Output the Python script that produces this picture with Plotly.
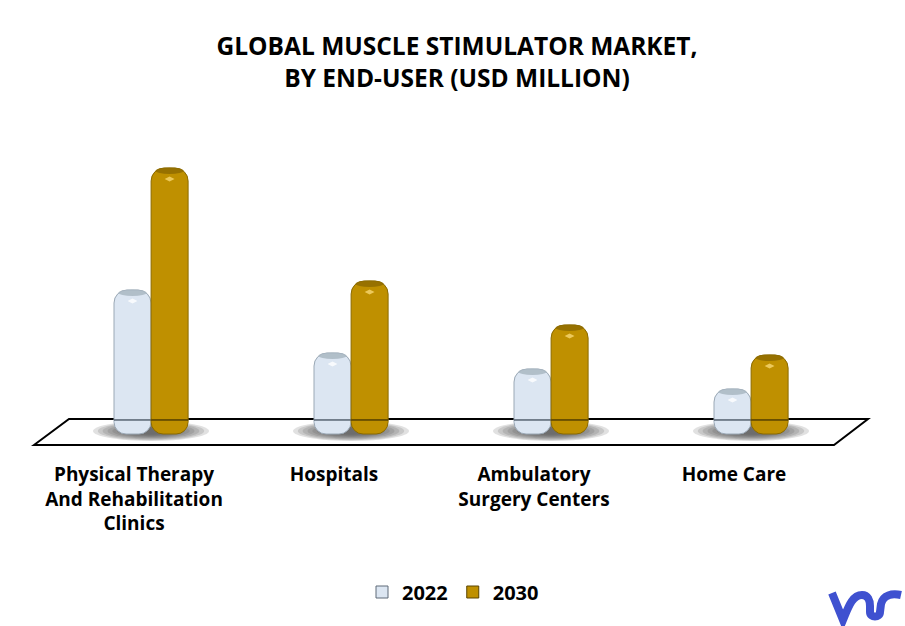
import plotly.graph_objects as go

W = 905
H = 626

categories = ["Physical Therapy<br>And Rehabilitation<br>Clinics", "Hospitals", "Ambulatory<br>Surgery Centers", "Home Care"]
values_2022 = [130, 67, 51, 31]
values_2030 = [252, 139, 95, 65]

font_name = "Open Sans"
color_2022 = "#dce6f2"
edge_2022 = "#9aa8b5"
cap_2022 = "#a9b7c2"
swatch_2022 = "#5f6b78"
color_2030 = "#bf9000"
edge_2030 = "#8a6a00"
cap_2030 = "#8f6c00"
swatch_2030 = "#5a4500"
logo_color = "#3f51d0"

bar_w = 0.185
foot = 14  # height of the rounded foot below zero

# plot area in pixels, paper coordinates are relative to this box
left = 32
right = 870
top = 134
bottom = 446


def px_x(p):
    return (p - left) / (right - left)


def px_y(p):
    return (bottom - p) / (bottom - top)


fig = go.Figure()
shapes = []

xs = list(range(len(categories)))

# floor of the fake 3d chart
shapes.append(dict(type="path", xref="paper", yref="paper", layer="below",
                   path="M %f,%f L %f,%f L %f,%f L %f,%f Z" % (px_x(34), px_y(445), px_x(69), px_y(419), px_x(868), px_y(419), px_x(834), px_y(445)),
                   fillcolor="white", line=dict(color="black", width=2)))

# soft shadow under each pair, a stack of faint ellipses
for x in xs:
    for k in range(9):
        rx = 0.29 - k * 0.024
        ry = 10 - k * 0.8
        shapes.append(dict(type="circle", xref="x", yref="y", layer="below",
                           x0=x + 0.085 - rx, x1=x + 0.085 + rx, y0=-11 - ry, y1=-11 + ry,
                           fillcolor="#505050", opacity=0.17, line=dict(width=0)))

series = [
    ("2022", values_2022, -0.0075, color_2022, edge_2022, cap_2022, swatch_2022),
    ("2030", values_2030, 0.178, color_2030, edge_2030, cap_2030, swatch_2030),
]

for name, vals, off, col, edge, cap, swatch in series:
    bar_x = [x + off for x in xs]
    fig.add_trace(go.Bar(x=bar_x, y=vals, width=bar_w, showlegend=False,
                         marker=dict(color=col, line=dict(color=edge, width=1), cornerradius=13)))
    # rounded foot of the bar
    fig.add_trace(go.Bar(x=bar_x, y=[-foot for v in vals], width=bar_w, showlegend=False,
                         marker=dict(color=col, line=dict(color=edge, width=1), cornerradius=12)))
    # hides the seam between bar and foot
    fig.add_trace(go.Bar(x=bar_x, y=[3 for v in vals], base=-3, width=bar_w - 0.008, showlegend=False,
                         marker=dict(color=col, line=dict(width=0))))
    # legend swatch only, square corners
    fig.add_trace(go.Bar(x=bar_x, y=[0 for v in vals], width=bar_w, name=name,
                         marker=dict(color=col, line=dict(color=swatch, width=1))))
    for bx, v in zip(bar_x, vals):
        shapes.append(dict(type="circle", xref="x", yref="y", layer="above",
                           x0=bx - 0.07, x1=bx + 0.07, y0=v - 6, y1=v + 0.5,
                           fillcolor=cap, opacity=0.85, line=dict(width=0)))
    # small glint near the top
    fig.add_trace(go.Scatter(x=bar_x, y=[v - 11 for v in vals], mode="markers", showlegend=False,
                             marker=dict(symbol="diamond-wide", size=7, color="rgba(255,255,255,0.8)" if name == "2022" else "rgba(255,225,130,0.7)", line=dict(width=0))))

# logo in the corner
logo = "M 832,593 L 843,620 C 848,608 852,595 862,595 C 868,595 870,600 870,606 L 870,612 C 870,618 880,618 880,612 L 881,604 C 883,595 892,593 901,595"
parts = []
for tok in logo.split():
    if "," in tok:
        a, b = tok.split(",")
        parts.append("%f,%f" % (px_x(float(a)), px_y(float(b))))
    else:
        parts.append(tok)
shapes.append(dict(type="path", xref="paper", yref="paper", path=" ".join(parts),
                   line=dict(color=logo_color, width=8), fillcolor="rgba(0,0,0,0)"))

fig.update_layout(
    width=W, height=H,
    margin=dict(l=left, r=W - right, t=top, b=H - bottom, pad=0, autoexpand=False),
    paper_bgcolor="white", plot_bgcolor="rgba(0,0,0,0)",
    barmode="overlay",
    shapes=shapes,
    font=dict(family=font_name, color="black"),
    title=dict(text="<b>GLOBAL MUSCLE STIMULATOR MARKET,<br>BY END-USER (USD MILLION)</b>",
               x=457 / W, xanchor="center", y=1 - 55 / H, yanchor="middle",
               font=dict(family=font_name, size=24.5, color="black")),
    xaxis=dict(range=[-0.51, 3.68], tickmode="array", tickvals=xs, ticktext=["<b>%s</b>" % c for c in categories],
               showgrid=False, zeroline=False, showline=False, ticks="", tickangle=0,
               ticklabelstandoff=15, tickfont=dict(family=font_name, size=19, color="black")),
    yaxis=dict(range=[-26, 286], visible=False),
    legend=dict(orientation="h", x=px_x(453), xanchor="center", y=px_y(592), yanchor="middle",
                bgcolor="rgba(0,0,0,0)",
                font=dict(family=font_name, size=20, color="black", weight=700), itemclick=False, traceorder="normal"),
)

fig.write_html("out.html", config=dict(displayModeBar=False), post_script="document.body.style.margin='0';")
